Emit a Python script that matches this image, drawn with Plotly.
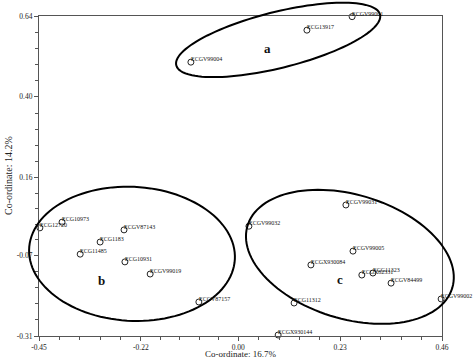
import numpy as np
import plotly.graph_objects as go

# ---- data ----
names = ["ECGV99001", "ECG13917", "ECGV99004",
         "ECG10973", "ECG12720", "ECG1183", "ECG11485", "ECGV87143",
         "ECG10931", "ECGV99019", "ECGV87157",
         "ECGV99031", "ECGV99032", "ECGV99005", "ECGX930084", "ECG11323",
         "ECGX82331", "ECGV84499", "ECG11312", "ECGV99002", "ECGX930144"]
coord1 = [0.257, 0.155, -0.107,
          -0.398, -0.448, -0.312, -0.357, -0.258,
          -0.256, -0.199, -0.089,
          0.243, 0.024, 0.259, 0.164, 0.304,
          0.279, 0.345, 0.126, 0.458, 0.090]
coord2 = [0.638, 0.598, 0.503,
          0.028, 0.011, -0.031, -0.067, 0.005,
          -0.090, -0.126, -0.209,
          0.079, 0.016, -0.058, -0.099, -0.123,
          -0.129, -0.153, -0.212, -0.200, -0.307]

x_ticks = [-0.45, -0.22, 0.00, 0.23, 0.46]
y_ticks = [-0.31, -0.07, 0.16, 0.40, 0.64]

x_title = "Co-ordinate: 16.7%"
y_title = "Co-ordinate: 14.2%"

group_labels = ["a", "b", "c"]
group_x = [0.067, -0.308, 0.230]
group_y = [0.545, -0.144, -0.141]

# ellipse: centre (data), semi-axes (px), angle (deg, counter-clockwise on screen)
ell_cx = [0.090, -0.240, 0.252]
ell_cy = [0.569, -0.066, -0.075]
ell_a = [105, 103, 107]
ell_b = [28, 67, 62]
ell_ang = [14, -3, -17]

# ---- layout geometry ----
W, H = 474, 359
ml, mr, mt, mb = 39, 32, 16, 23
PW, PH = W - ml - mr, H - mt - mb
xr = [x_ticks[0], x_ticks[-1]]
yr = [y_ticks[0], y_ticks[-1]]

FONT = "Liberation Serif, Times New Roman, serif"


def minor_vals(majors, n=4):
    out = []
    for a, b in zip(majors[:-1], majors[1:]):
        out += list(np.linspace(a, b, n + 2)[1:-1])
    return out


fig = go.Figure()
fig.add_trace(go.Scatter(
    x=coord1, y=coord2, mode="markers",
    marker=dict(symbol="circle-open", size=6, color="#222", line=dict(width=1)),
    cliponaxis=False, hoverinfo="text", text=names, showlegend=False))

annotations = []
for n, x, y in zip(names, coord1, coord2):
    annotations.append(dict(x=x, y=y, xref="x", yref="y", text=n, showarrow=False,
                            xanchor="left", yanchor="bottom", xshift=-2, yshift=-2,
                            font=dict(family=FONT, size=6, color="#111")))
for t, x, y in zip(group_labels, group_x, group_y):
    annotations.append(dict(x=x, y=y, xref="x", yref="y", text="<b>%s</b>" % t,
                            showarrow=False, font=dict(family=FONT, size=13, color="#111")))
annotations.append(dict(x=0.5, y=0, xref="paper", yref="paper", text=x_title,
                        showarrow=False, xanchor="center", yanchor="top", yshift=-11,
                        font=dict(family=FONT, size=9, color="#222")))
annotations.append(dict(x=0, y=0.5, xref="paper", yref="paper", text=y_title,
                        showarrow=False, xanchor="center", yanchor="middle", xshift=-31,
                        textangle=-90, font=dict(family=FONT, size=10, color="#222")))

shapes = []
tt = np.linspace(0, 2 * np.pi, 120)
for cx, cy, a, b, ang in zip(ell_cx, ell_cy, ell_a, ell_b, ell_ang):
    th = np.deg2rad(ang)
    dx = a * np.cos(tt) * np.cos(th) - b * np.sin(tt) * np.sin(th)
    dy = a * np.cos(tt) * np.sin(th) + b * np.sin(tt) * np.cos(th)
    px = (cx - xr[0]) / (xr[1] - xr[0]) + dx / PW
    py = (cy - yr[0]) / (yr[1] - yr[0]) + dy / PH
    path = "M " + " L ".join("%.5f,%.5f" % (u, v) for u, v in zip(px, py)) + " Z"
    shapes.append(dict(type="path", xref="paper", yref="paper", path=path,
                       line=dict(color="black", width=2)))

axis_common = dict(showgrid=False, zeroline=False, showline=True, linecolor="#555",
                   linewidth=1.2, mirror=True, ticks="outside", ticklen=4,
                   tickcolor="#555", automargin=False,
                   tickfont=dict(family=FONT, size=7.5, color="#222"))

fig.update_layout(
    width=W, height=H, margin=dict(l=ml, r=mr, t=mt, b=mb),
    plot_bgcolor="white", paper_bgcolor="white",
    annotations=annotations, shapes=shapes,
    xaxis=dict(range=xr, tickvals=x_ticks, ticktext=["%.2f" % v for v in x_ticks],
               minor=dict(tickvals=minor_vals(x_ticks), ticks="outside", ticklen=3,
                          tickcolor="#555"),
               **axis_common),
    yaxis=dict(range=yr, tickvals=y_ticks, ticktext=["%.2f" % v for v in y_ticks],
               minor=dict(tickvals=minor_vals(y_ticks), ticks="outside", ticklen=3,
                          tickcolor="#555"),
               **axis_common),
)

fig.write_html("out.html", config={"displayModeBar": False},
               post_script="document.body.style.margin='0';document.body.style.overflow='hidden';")
